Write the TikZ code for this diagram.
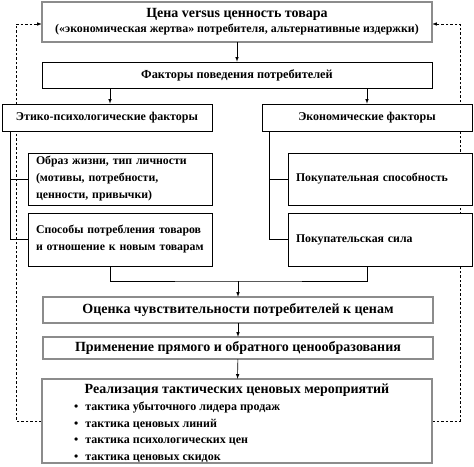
\documentclass[tikz,border=0pt]{standalone}
\usepackage{fontspec}
\setmainfont{Liberation Serif}
\usepackage{xcolor}
\usepackage{tikz}
\usetikzlibrary{backgrounds}

\begin{document}
\begin{tikzpicture}[x=1pt,y=-1pt]
\tikzstyle{mainbox}=[draw=black,line width=0.4pt,double=black!45,double distance=1.8pt,fill=white,minimum width=390pt,inner sep=0pt,font=\bfseries\fontsize{14}{16}\selectfont];
\tikzstyle{thinbox}=[draw,line width=0.6pt,fill=white,inner sep=0pt,font=\bfseries\fontsize{12.3}{15}\selectfont];
\tikzstyle{factorbox}=[draw,line width=0.6pt,fill=white,minimum width=210pt,minimum height=27pt,inner sep=0pt,font=\bfseries\fontsize{12}{14}\selectfont];
\tikzstyle{subbox}=[draw,line width=0.6pt,fill=white,text width=174pt,inner xsep=5pt,inner ysep=0pt,align=left,font=\bfseries\fontsize{11.8}{17}\selectfont];
\tikzstyle{link}=[->,>=latex,line width=0.6pt];
\tikzstyle{feedback}=[->,>=latex,line width=0.6pt,dash pattern=on 2.5pt off 2pt];
\useasboundingbox (0,0) rectangle (474,466);

\node[mainbox,minimum height=40pt,align=center] (price) at (237,22) {Цена versus ценность товара\\[-1pt]{\fontsize{11.9}{13}\selectfont («экономическая жертва» потребителя, альтернативные издержки)}};
\node[thinbox,minimum width=390pt,minimum height=26pt] (behav) at (237,75) {Факторы поведения потребителей};

\node[factorbox] (ethic) at (107,117.5) {Этико-психологические факторы};
\node[factorbox] (econ) at (367,117.5) {Экономические факторы};

\node[subbox,minimum height=52pt] (life) at (120,179) {\hspace{3pt}Образ жизни, тип личности\\\hspace{3pt}(мотивы, потребности,\\\hspace{3pt}ценности, привычки)};
\node[subbox,minimum height=53pt] (cons) at (120,239.5) {\hspace{3pt}Способы потребления товаров\\\hspace{3pt}и отношение к новым товарам};
\node[subbox,minimum height=52pt] (power) at (380,179) {\hspace{3pt}Покупательная способность};
\node[subbox,minimum height=53pt] (force) at (380,239.5) {\hspace{3pt}Покупательская сила};

\node[mainbox,minimum height=26pt] (sens) at (238,310) {Оценка чувствительности потребителей к ценам};
\node[mainbox,minimum height=22pt] (apply) at (238,348) {Применение прямого и обратного ценообразования};
\node[mainbox,minimum height=84pt] (tact) at (237,421) {};
\node[font=\bfseries\fontsize{14}{16}\selectfont] (tacttitle) at (237,390) {Реализация тактических ценовых мероприятий};
\node[anchor=west,inner sep=0pt,font=\bfseries\fontsize{12}{16.5}\selectfont] (tactlist) at (74,432) {\begin{tabular}{@{}l@{\hspace{7pt}}l@{}}
•&тактика убыточного лидера продаж\\
•&тактика ценовых линий\\
•&тактика психологических цен\\
•&тактика ценовых скидок
\end{tabular}};

\coordinate (join) at (238,281);

\draw[link] (price) -- (behav);
\draw[link] (behav.south -| 110,0) -- (ethic.north -| 110,0);
\draw[link] (behav.south -| 367,0) -- (econ.north -| 367,0);

\draw[line width=0.6pt] (ethic.south -| 10,0) |- (life.west);
\draw[line width=0.6pt] (ethic.south -| 10,0) |- (cons.west);
\draw[line width=0.6pt] (econ.south -| 269,0) |- (power.west);
\draw[line width=0.6pt] (econ.south -| 269,0) |- (force.west);

\draw[line width=0.6pt] (cons.south -| 110,0) |- (join) -| (force.south -| 367,0);
\draw[link] (join) -- (sens);
\draw[link] (sens) -- (apply);
\draw[link] (apply) -- (tact);

\begin{scope}[on background layer]
\draw[feedback] (tact.west) -- (16,421) -- (16,24) -- (price.west |- 16,24);
\draw[feedback] (tact.east) -- (460,421) -- (460,24) -- (price.east |- 460,24);
\end{scope}
\end{tikzpicture}
\end{document}
